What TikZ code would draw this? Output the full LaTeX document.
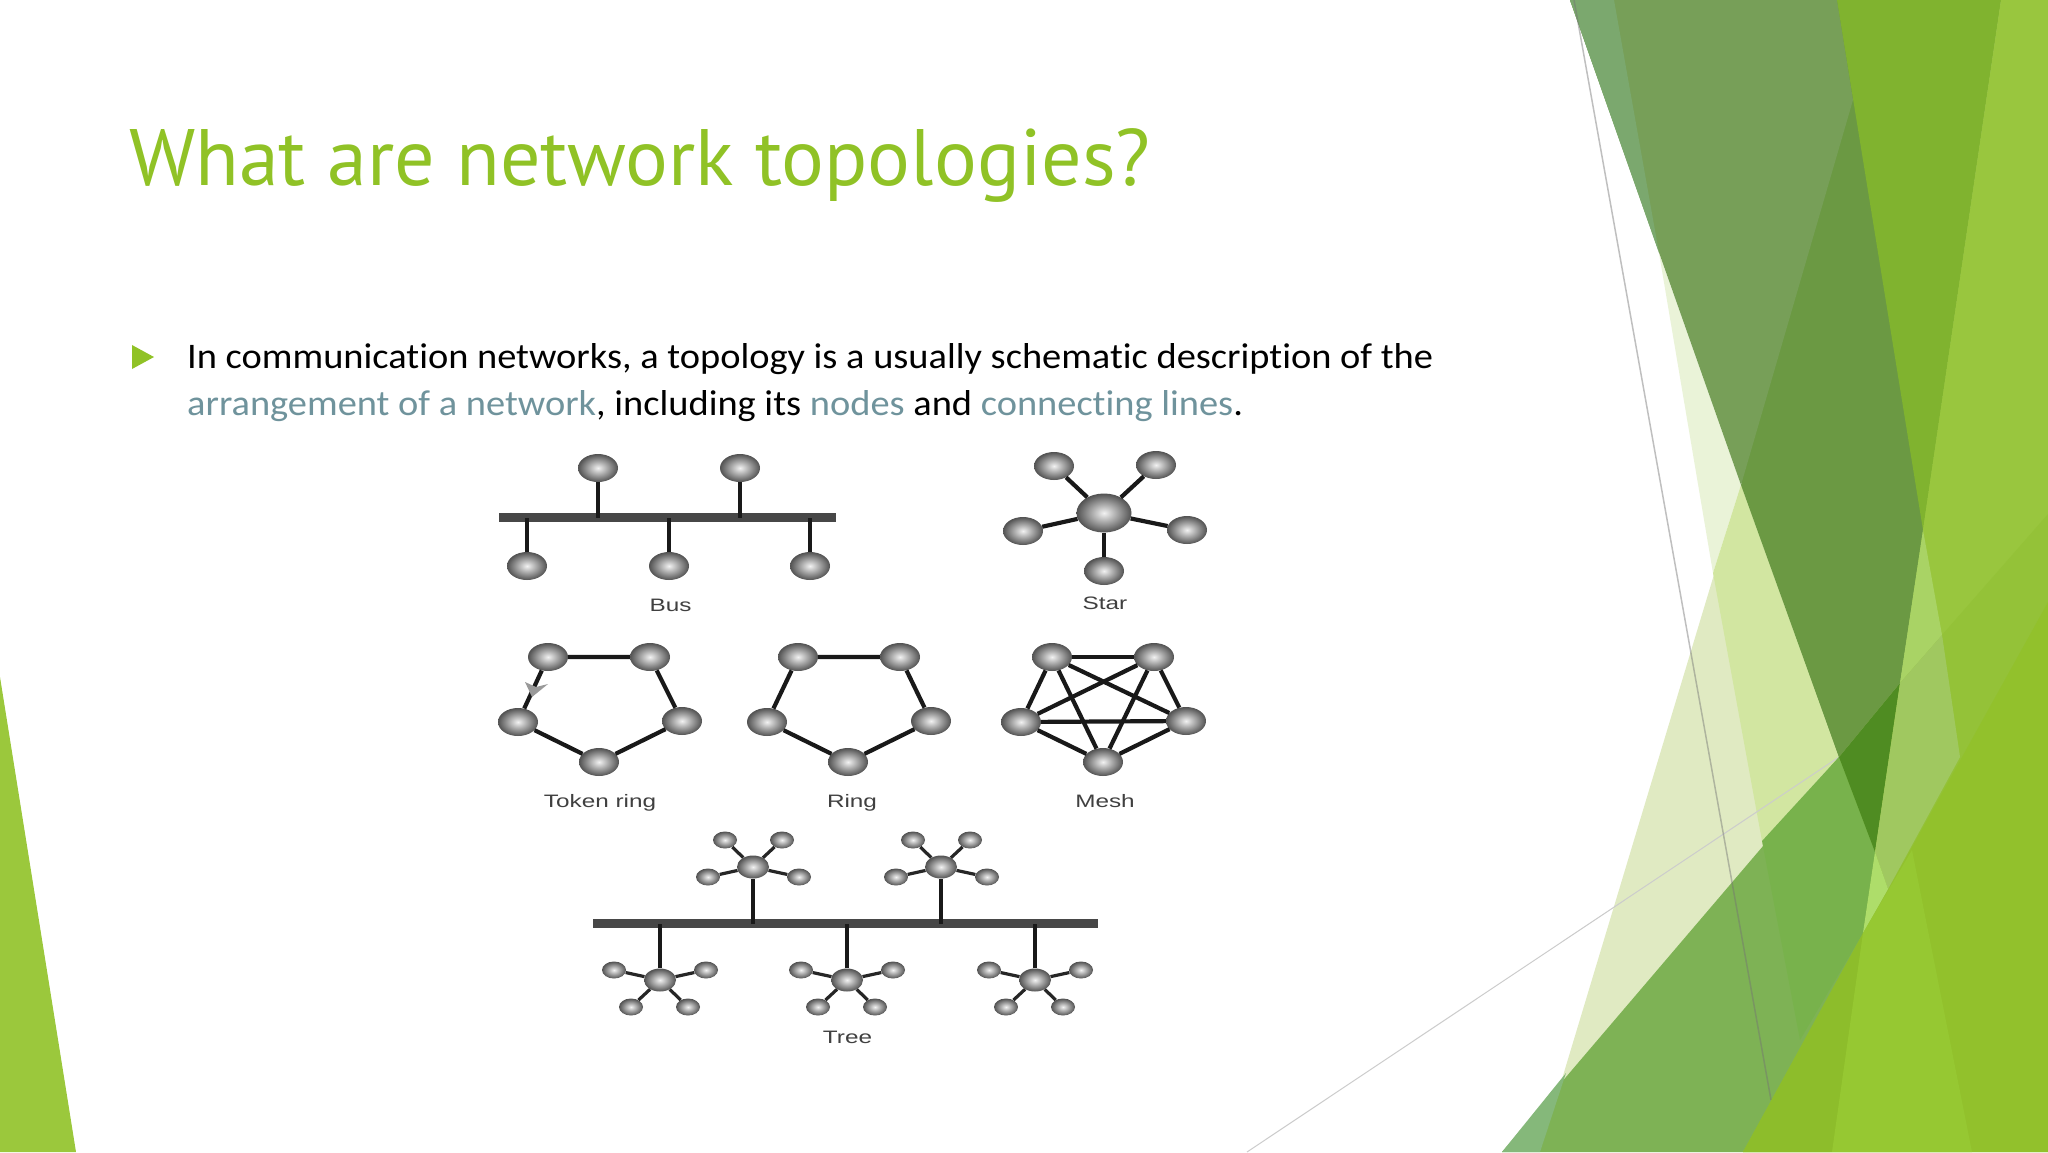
\documentclass[tikz,border=0pt]{standalone}
\usepackage{fontspec}
\setmainfont{Carlito}
\newfontfamily\bodyfont[FakeStretch=1.067,Ligatures=NoCommon,Contextuals=NoAlternate]{Carlito}
\newfontfamily\titlefont{PT Sans}
\newfontfamily\labelfont[FakeStretch=1.35]{Liberation Sans}
\usetikzlibrary{shapes.geometric}

\definecolor{titlegreen}{HTML}{90C226}
\definecolor{linkblue}{HTML}{6F939C}

\tikzset{
    ballnode/.style={ellipse, draw=none, inner sep=0pt, inner color=gray!10, outer color=black!68,
        minimum width=40, minimum height=28},
    hubnode/.style={ballnode, minimum width=55, minimum height=39},
    treehub/.style={ballnode, minimum width=32, minimum height=23},
    treeleaf/.style={ballnode, minimum width=24, minimum height=17},
    barnode/.style={rectangle, fill=black!72, inner sep=0pt, minimum height=9},
    wire/.style={draw=black!90, line width=4.2pt},
    thinwire/.style={draw=black!85, line width=3.2pt},
    caption/.style={font=\labelfont\fontsize{18}{20}\selectfont, text=black!75, inner sep=0pt, anchor=base},
    facet/.style={line width=0pt}
}

\begin{document}
\begin{tikzpicture}[x=1pt,y=-1pt]
    \useasboundingbox (0,0) rectangle (2048,1152);
    \fill[white] (0,0) rectangle (2048,1152);

    % Left corner
    \fill[facet, fill=titlegreen!90!white] (0,677) -- (76,1152) -- (0,1152) -- cycle;

    % Pale facets
    \fill[facet, fill={rgb,255:red,224;green,234;blue,194}] (1741,485) -- (1540,1152) -- (1900,1152) -- (1900,700) -- cycle;
    \fill[facet, fill={rgb,255:red,234;green,243;blue,216}] (1659,253) -- (1741,485) -- (1713,573) -- cycle;
    \fill[facet, fill={rgb,255:red,210;green,230;blue,161}] (1713,573) -- (1741,485) -- (1839,757) -- (1762,841) -- cycle;

    % Thin line across the pale facets
    \draw[line width=1pt, draw=black!20] (1247,1152) -- (1839,757);

    % Base under the dark and right facets
    \fill[facet, fill={rgb,255:red,107;green,153;blue,67}] (1570,0) -- (2001,0) -- (1900,683) -- (1839,757) -- cycle;
    \fill[facet, fill={rgb,255:red,148;green,194;blue,56}] (1743,1152) -- (1839,757) -- (1900,683) -- (2001,0) -- (2048,0) -- (2048,1152) -- cycle;

    % Lower band
    \fill[facet, fill={rgb,255:red,126;green,178;blue,85}] (1502,1152) -- (1839,757) -- (1875,852) -- (1863,933) -- (1743,1152) -- cycle;
    \fill[facet, fill={rgb,255:red,120;green,178;blue,76}] (1762,841) -- (1839,757) -- (1875,852) -- (1863,933) -- (1800,1040) -- cycle;
    \fill[facet, fill={rgb,255:red,133;green,184;blue,122}] (1540,1152) -- (1566,1073) -- (1502,1152) -- cycle;

    % Dark facets
    \fill[facet, fill={rgb,255:red,79;green,140;blue,34}] (1839,757) -- (1900,683) -- (1875,852) -- cycle;
    \fill[facet, fill={rgb,255:red,107;green,153;blue,67}] (1853,100) -- (1741,485) -- (1839,757) -- (1900,683) -- (1923,530) -- cycle;
    \fill[facet, fill={rgb,255:red,119;green,159;blue,88}] (1570,0) -- (1837,0) -- (1853,100) -- (1741,485) -- cycle;
    \fill[facet, fill={rgb,255:red,123;green,168;blue,110}] (1570,0) -- (1614,0) -- (1659,253) -- cycle;

    % Thin line down to the bottom facets
    \draw[line width=1.5pt, draw=black!55, opacity=.45] (1574,0) -- (1771,1100);

    % Right facets
    \fill[facet, fill={rgb,255:red,128;green,179;blue,47}] (1837,0) -- (2001,0) -- (1923,530) -- cycle;
    \fill[facet, fill={rgb,255:red,153;green,198;blue,62}] (2001,0) -- (2048,0) -- (2048,602) -- (1960,757) -- (1923,530) -- cycle;
    \fill[facet, fill={rgb,255:red,148;green,194;blue,56}] (1942,635) -- (2048,514) -- (2048,602) -- (1960,757) -- cycle;
    \fill[facet, fill={rgb,255:red,169;green,211;blue,101}] (1923,530) -- (1942,635) -- (1900,683) -- cycle;
    \fill[facet, fill={rgb,255:red,160;green,200;blue,96}] (1900,683) -- (1942,635) -- (1960,757) -- (1888,889) -- (1875,852) -- cycle;
    \fill[facet, fill={rgb,255:red,174;green,221;blue,106}] (1875,852) -- (1888,889) -- (1863,933) -- cycle;

    % Bottom facets
    \fill[facet, fill={rgb,255:red,146;green,193;blue,44}] (1743,1152) -- (2048,602) -- (2048,1152) -- cycle;
    \fill[facet, fill={rgb,255:red,141;green,189;blue,43}] (1743,1152) -- (1863,933) -- (1832,1152) -- cycle;
    \fill[facet, fill={rgb,255:red,150;green,200;blue,50}] (1832,1152) -- (1863,933) -- (1912,850) -- (1972,1152) -- cycle;

    % Title and text
    \node[anchor=base west, inner sep=0pt, text=titlegreen, font=\titlefont\fontsize{80}{84}\selectfont] (title) at (129,185) {What are network topologies?};
    \fill[titlegreen] (132,345) -- (154,357) -- (132,369) -- cycle;
    \node[anchor=base west, inner sep=0pt, font=\bodyfont\fontsize{36}{40}\selectfont] (lineone) at (187,368) {In communication networks, a topology is a usually schematic description of the};
    \node[anchor=base west, inner sep=0pt, font=\bodyfont\fontsize{36}{40}\selectfont] (linetwo) at (187,415) {\textcolor{linkblue}{arrangement of a network}, including its \textcolor{linkblue}{nodes} and \textcolor{linkblue}{connecting lines}.};

    % Bus
    \node[barnode, minimum width=337] (busbar) at (667.5,517.5) {};
    \foreach \name/\x/\y in {bt1/598/468, bt2/740/468, bb1/527/566, bb2/669/566, bb3/810/566} {
        \node[ballnode] (\name) at (\x,\y) {};
        \draw[wire] (\name) -- (\name |- busbar.center);
    }
    \node[caption] (buslabel) at (670.5,611) {Bus};

    % Star
    \node[hubnode] (starhub) at (1104,513) {};
    \foreach \name/\x/\y in {s1/1054/466, s2/1156/465, s3/1023/531, s4/1187/530, s5/1104/571} {
        \node[ballnode] (\name) at (\x,\y) {};
        \draw[wire] (starhub) -- (\name);
    }
    \node[caption] (starlabel) at (1105,609) {Star};

    % Token ring
    \node[ballnode] (t1) at (548,657) {};
    \node[ballnode] (t2) at (650,657) {};
    \node[ballnode] (t3) at (682,721) {};
    \node[ballnode] (t4) at (599,762) {};
    \node[ballnode] (t5) at (518,722) {};
    \draw[wire] (t1) -- (t2) -- (t3) -- (t4) -- (t5) -- (t1);
    \fill[gray!80] (525,682) -- (536,687) -- (548,684) -- (532,697) -- cycle;
    \node[caption] (tokenlabel) at (600,807) {Token ring};

    % Ring
    \node[ballnode] (r1) at (798,657) {};
    \node[ballnode] (r2) at (900,657) {};
    \node[ballnode] (r3) at (931,721) {};
    \node[ballnode] (r4) at (848,762) {};
    \node[ballnode] (r5) at (767,722) {};
    \draw[wire] (r1) -- (r2) -- (r3) -- (r4) -- (r5) -- (r1);
    \node[caption] (ringlabel) at (852,807) {Ring};

    % Mesh
    \node[ballnode] (m1) at (1052,657) {};
    \node[ballnode] (m2) at (1154,657) {};
    \node[ballnode] (m3) at (1186,721) {};
    \node[ballnode] (m4) at (1103,762) {};
    \node[ballnode] (m5) at (1021,722) {};
    \foreach \a/\b in {m1/m2, m1/m3, m1/m4, m1/m5, m2/m3, m2/m4, m2/m5, m3/m4, m3/m5, m4/m5}
        \draw[wire] (\a) -- (\b);
    \node[caption] (meshlabel) at (1105,807) {Mesh};

    % Tree
    \node[barnode, minimum width=505] (treebar) at (845,923.5) {};
    \foreach \name/\x in {a/753, b/941} {
        \node[treehub] (\name) at (\x,867) {};
        \draw[wire] (\name) -- (\name |- treebar.center);
        \foreach \i/\dx/\dy in {1/-28/-27, 2/29/-27, 3/-45/10, 4/46/10} {
            \node[treeleaf] (\name\i) at (\x+\dx,867+\dy) {};
            \draw[thinwire] (\name) -- (\name\i);
        }
    }
    \foreach \name/\x in {c/660, d/847, e/1035} {
        \node[treehub] (\name) at (\x,980) {};
        \draw[wire] (\name) -- (\name |- treebar.center);
        \foreach \i/\dx/\dy in {1/-46/-10, 2/46/-10, 3/-29/27, 4/28/27} {
            \node[treeleaf] (\name\i) at (\x+\dx,980+\dy) {};
            \draw[thinwire] (\name) -- (\name\i);
        }
    }
    \node[caption] (treelabel) at (847.5,1043) {Tree};
\end{tikzpicture}
\end{document}
